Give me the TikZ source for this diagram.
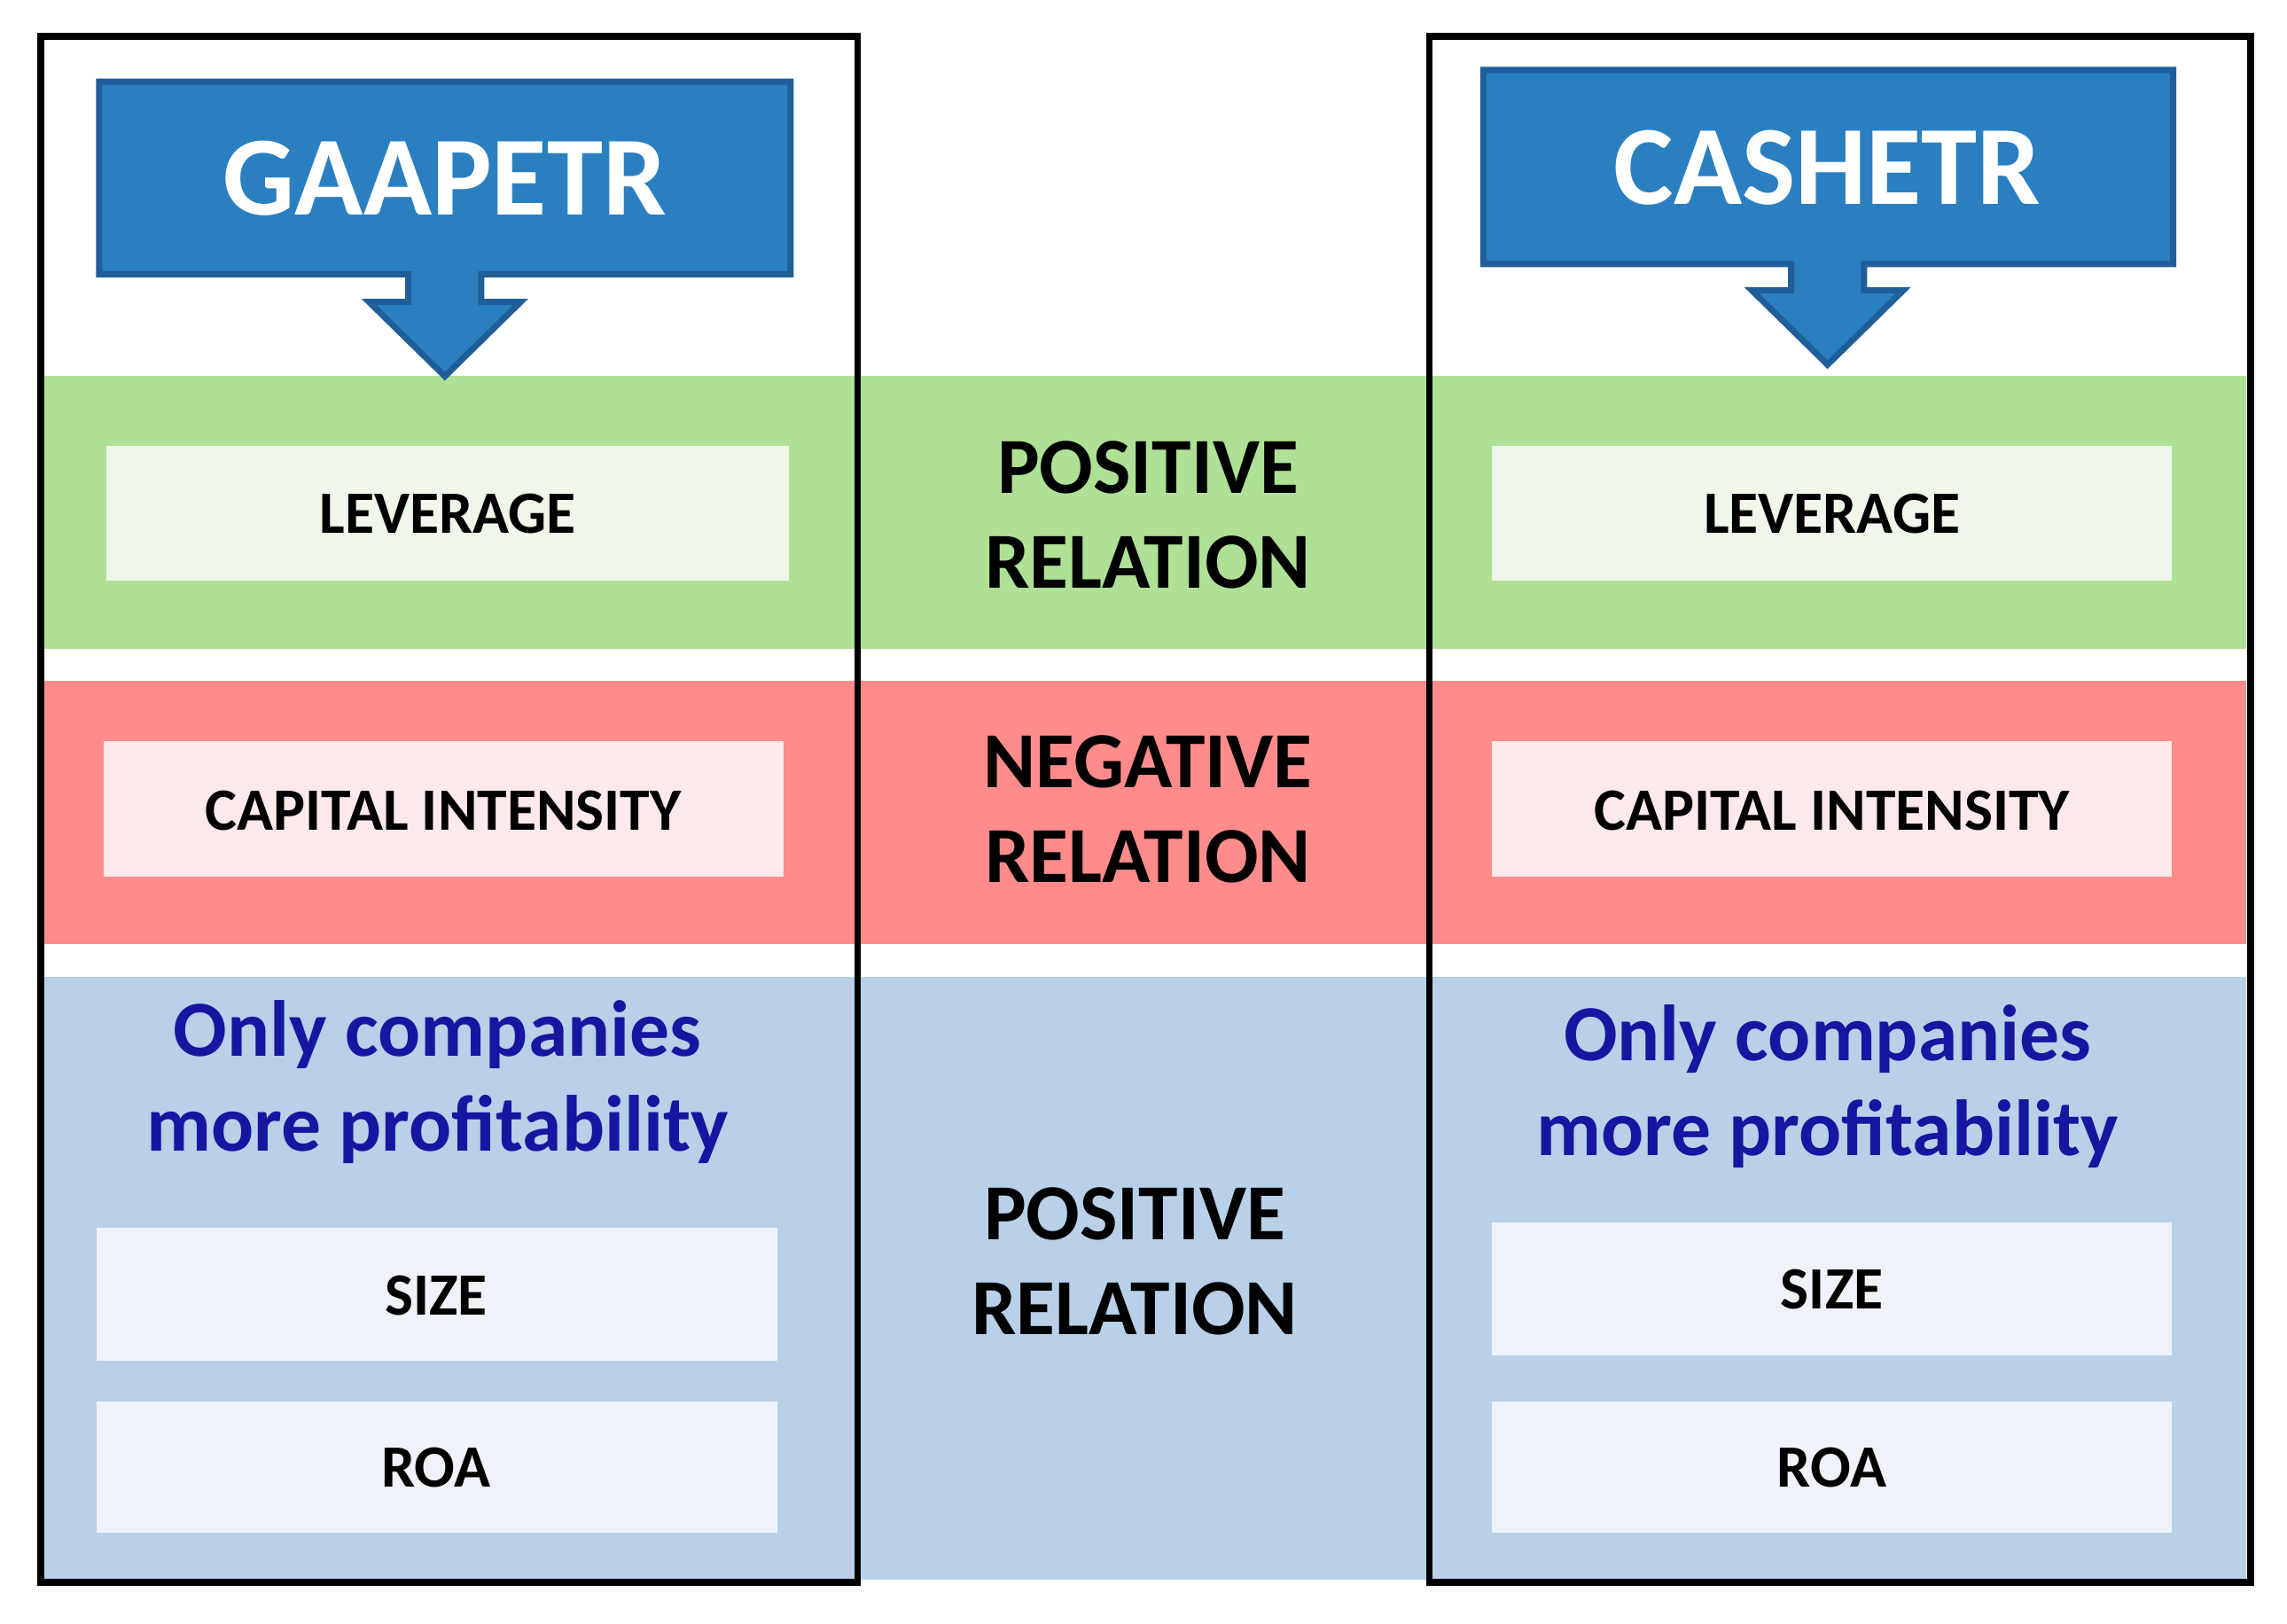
\documentclass[tikz,border=0pt]{standalone}
\usepackage{fontspec}
\setmainfont{Carlito}
\definecolor{bandgreen}{HTML}{AEE196}
\definecolor{bandred}{HTML}{FF8B8B}
\definecolor{bandblue}{HTML}{B8D0E8}
\definecolor{boxgreen}{HTML}{EEF7E9}
\definecolor{boxred}{HTML}{FDE9E9}
\definecolor{boxblue}{HTML}{EFF3F9}
\definecolor{headfill}{HTML}{2A7FC1}
\definecolor{headline}{HTML}{1F5E98}
\definecolor{textblue}{HTML}{1616A0}
\tikzset{
    band/.style={draw=none},
    frame/.style={draw=black, line width=1.3pt},
    head/.style={fill=headfill, draw=headline, line width=1.2pt, line join=miter},
    headtext/.style={text=white, font=\fontsize{22}{24}\selectfont\bfseries},
    varbox/.style={draw=none, font=\fontsize{11.7}{14}\selectfont\bfseries},
    midtext/.style={align=center, font=\fontsize{15.5}{18.5}\selectfont\bfseries},
    bluetext/.style={align=center, text=textblue, font=\fontsize{15.5}{18.5}\selectfont\bfseries}
}
\begin{document}
\begin{tikzpicture}[x=0.01cm, y=-0.01cm]
    \useasboundingbox (0,0) rectangle (1568,1113);
    % bands
    \fill[bandgreen] (30,258) rectangle (1540,445);
    \fill[bandred] (30,467) rectangle (1540,647);
    \fill[bandblue] (30,670) rectangle (1540,1083);
    % frames
    \draw[frame] (28,25) rectangle (588,1085);
    \draw[frame] (980,25) rectangle (1543,1085);
    % header arrows
    \draw[head] (68,56) -- (542,56) -- (542,188) -- (330,188) -- (330,207) -- (357,207)
        -- (305,258) -- (253,207) -- (280,207) -- (280,188) -- (68,188) -- cycle;
    \node[headtext] (gaap) at (305,122) {GAAPETR};
    \draw[head] (1017,48) -- (1490,48) -- (1490,181) -- (1278,181) -- (1278,199) -- (1305,199)
        -- (1253,250) -- (1201,199) -- (1228,199) -- (1228,181) -- (1017,181) -- cycle;
    \node[headtext] (cash) at (1253,115) {CASHETR};
    % left column
    \fill[boxgreen] (73,306) rectangle (541,398);
    \node[varbox] (levL) at (307,352) {LEVERAGE};
    \fill[boxred] (71,508) rectangle (537,601);
    \node[varbox] (capL) at (304,556) {CAPITAL INTENSITY};
    \node[bluetext] (onlyL) at (300,742) {Only companies\\more profitability};
    \fill[boxblue] (66,842) rectangle (533,933);
    \node[varbox] (sizeL) at (299,888) {SIZE};
    \fill[boxblue] (66,961) rectangle (533,1051);
    \node[varbox] (roaL) at (299,1006) {ROA};
    % right column
    \fill[boxgreen] (1023,306) rectangle (1489,398);
    \node[varbox] (levR) at (1256,352) {LEVERAGE};
    \fill[boxred] (1023,508) rectangle (1489,601);
    \node[varbox] (capR) at (1256,556) {CAPITAL INTENSITY};
    \node[bluetext] (onlyR) at (1253,745) {Only companies\\more profitability};
    \fill[boxblue] (1023,838) rectangle (1489,929);
    \node[varbox] (sizeR) at (1256,884) {SIZE};
    \fill[boxblue] (1023,961) rectangle (1489,1051);
    \node[varbox] (roaR) at (1256,1006) {ROA};
    % middle
    \node[midtext] (posA) at (787,353) {POSITIVE\\RELATION};
    \node[midtext] (neg) at (787,555) {NEGATIVE\\RELATION};
    \node[midtext] (posB) at (778,865) {POSITIVE\\RELATION};
\end{tikzpicture}
\end{document}
